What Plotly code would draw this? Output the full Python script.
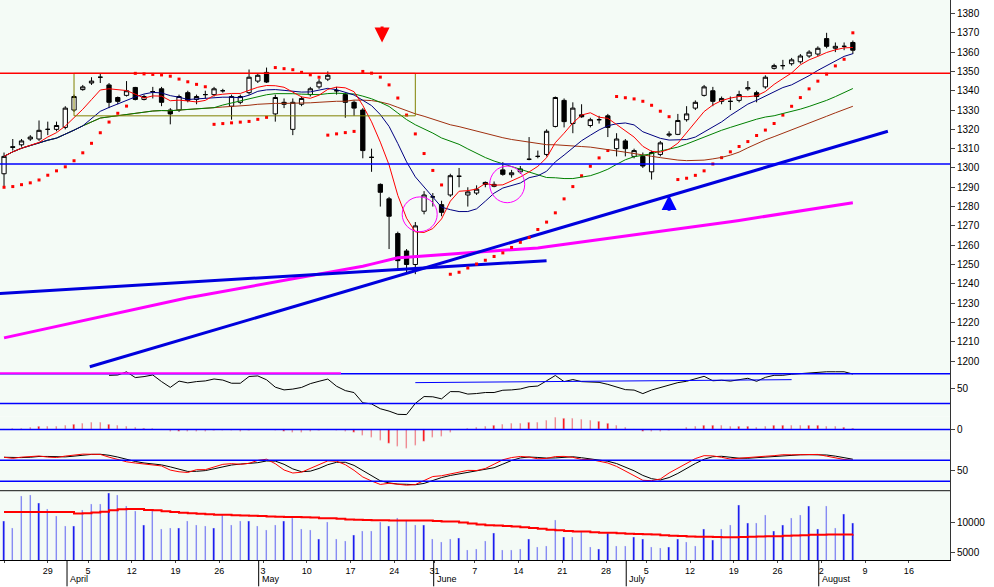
import plotly.graph_objects as go
from plotly.subplots import make_subplots
import pandas as pd
import numpy as np

# daily OHLC (trading-day index 0 = Mar 22)
opens = [1297, 1311, 1312, 1315, 1315, 1320, 1320, 1321, 1330, 1340.6,
         1344, 1347, 1343, 1336.5, 1337.6, 1341.7, 1335.5, 1339.6, 1341, 1330,
         1330, 1339, 1335.5, 1338, 1338, 1340, 1332, 1334, 1339, 1345,
         1349.5, 1328, 1334, 1320, 1333, 1338, 1342, 1346, 1340, 1338,
         1334, 1330, 1305.5, 1291.5, 1284, 1266, 1257, 1250, 1277.6, 1285,
         1281, 1286, 1295.7, 1286, 1287, 1292.5, 1290.5, 1299, 1296.5, 1298,
         1304.5, 1306, 1307, 1321.5, 1335, 1323, 1327.5, 1322, 1325, 1327,
         1310, 1314, 1306, 1306, 1298, 1307, 1317, 1317.4, 1325, 1331,
         1337.6, 1340, 1334.5, 1334.5, 1335, 1341, 1339, 1342, 1351.6, 1353,
         1354, 1355, 1358, 1359, 1367, 1362, 1363, 1365]
closes = [1306, 1310.7, 1314, 1316, 1319.5, 1320, 1322, 1331, 1337, 1342,
          1345, 1347, 1334, 1334.5, 1340, 1335.5, 1337, 1339.6, 1334, 1328,
          1337, 1335, 1337, 1338, 1341, 1340, 1337, 1337, 1347, 1348,
          1344.5, 1336.5, 1333, 1334, 1336, 1341, 1344.5, 1348, 1340, 1334,
          1331, 1309, 1305.5, 1287.4, 1275, 1252, 1250, 1270, 1286, 1285,
          1277, 1296, 1295.7, 1287.6, 1289, 1291.5, 1291.5, 1296.7, 1297.5, 1299.5,
          1304.5, 1306, 1319, 1336.5, 1324, 1331, 1326.5, 1325, 1325, 1321,
          1315, 1310, 1309, 1301, 1308, 1313, 1317.5, 1324.6, 1328, 1334,
          1342, 1334.5, 1336, 1334.5, 1338, 1341.5, 1337, 1347, 1353, 1353,
          1356, 1358, 1360, 1362, 1363, 1363, 1363, 1361]
highs = [1308, 1315, 1315, 1317, 1324.6, 1324, 1324, 1332, 1338, 1343,
         1347, 1349, 1344, 1337, 1345, 1342, 1338, 1342, 1342, 1331,
         1338, 1340, 1338, 1340, 1342, 1341, 1338, 1338, 1351, 1349,
         1352, 1338, 1336, 1336, 1337, 1342, 1346, 1350, 1342, 1339,
         1335, 1331, 1310, 1292, 1285, 1267, 1258, 1272, 1288, 1287,
         1283, 1297, 1300, 1290, 1291, 1293, 1293, 1303, 1299, 1301,
         1316, 1309, 1320, 1337, 1336, 1334, 1333, 1326, 1327, 1328,
         1318, 1315, 1310, 1308, 1309, 1314, 1319, 1328, 1332, 1335,
         1343, 1342, 1337, 1337, 1340, 1345, 1340, 1348, 1354, 1356,
         1357, 1359, 1361, 1363, 1370, 1365, 1365, 1366]
lows = [1290, 1309, 1311, 1314, 1314, 1317, 1319, 1320, 1329, 1340,
        1343, 1344, 1331, 1333, 1337, 1335, 1335, 1336, 1332, 1322.6,
        1329, 1334, 1333, 1336, 1337, 1339, 1325, 1333, 1338, 1344,
        1344, 1324, 1331, 1317, 1332, 1337, 1341, 1345, 1338, 1326,
        1327, 1305, 1298, 1280, 1258, 1248, 1246, 1245, 1276, 1280,
        1275, 1285, 1290, 1280, 1286, 1290, 1290, 1296, 1295, 1297,
        1304, 1305, 1306, 1321, 1321, 1318, 1326, 1321, 1323, 1316,
        1306, 1306, 1305, 1300, 1294, 1306, 1316, 1317, 1324, 1330,
        1337, 1332, 1333, 1330, 1334, 1340, 1334, 1341, 1351, 1351,
        1353, 1354, 1357, 1358, 1362, 1360, 1361, 1359]
volumes = [10100, 9000, 14400, 14500, 13200, 12150, 11000, 9250, 9250, 12000,
           13000, 13000, 14900, 14500, 12700, 11900, 9400, 11900, 8800, 9000,
           9000, 10100, 9400, 9250, 9000, 11200, 9500, 10100, 10100, 9250,
           8700, 9400, 10100, 10600, 8850, 8700, 7200, 10000, 7200, 6800,
           7800, 8500, 8500, 10000, 9250, 10600, 10400, 9500, 9500, 7200,
           6600, 7200, 7300, 5300, 5500, 6800, 8100, 5300, 5300, 5500,
           7200, 5750, 6000, 10300, 7500, 7500, 8400, 5750, 5500, 8200,
           6000, 6000, 7500, 7200, 5750, 5650, 5750, 7200, 6600, 6000,
           8850, 6900, 8800, 9500, 12900, 9800, 9800, 11100, 8500, 9500,
           10600, 11100, 12700, 8800, 12700, 9000, 11400, 9800]

# 200-day line and trend lines (index, value)
ma200_idx = [0, 20, 40, 45, 60, 80, 97]
ma200_val = [1212, 1232, 1248, 1253.5, 1258, 1270, 1282]
trend1_idx = [-0.5, 62]
trend1_val = [1235, 1252]
trend2_idx = [9.8, 101]
trend2_val = [1197, 1319]

resist = 1349
support = 1302

tick_idx = [0, 5, 9.6, 14.6, 19.6, 24.6, 29.6, 34.6, 39.6, 44.6, 49.2, 53.8,
            58.8, 63.8, 68.8, 73.4, 78.4, 83.4, 88.4, 93.4, 98.4, 103.4, 108.4]
tick_text = ["22", "29", "5", "12", "19", "26", "3", "10", "17", "24", "31", "7",
             "14", "21", "28", "5", "12", "19", "26", "2", "9", "16", "2"]
month_idx = [7.2, 29.1, 49.1, 71.1, 93.1]
month_names = ["April", "May", "June", "July", "August"]

k = list(range(len(closes)))
c = pd.Series(closes)
h = pd.Series(highs)
lo = pd.Series(lows)

# indicators
ma5 = c.rolling(5, min_periods=1).mean()
ma10 = c.rolling(10, min_periods=1).mean()
ma25 = c.rolling(25, min_periods=1).mean()
ma40 = c.rolling(40, min_periods=1).mean()

d = c.diff().fillna(0)
up = d.clip(lower=0).ewm(alpha=1 / 14, adjust=False).mean()
dn = (-d.clip(upper=0)).ewm(alpha=1 / 14, adjust=False).mean()
rsi = 100 - 100 / (1 + up / dn.replace(0, np.nan))

macd = c.ewm(span=12, adjust=False).mean() - c.ewm(span=26, adjust=False).mean()
hist = macd - macd.ewm(span=9, adjust=False).mean()

ll = lo.rolling(14, min_periods=1).min()
hh = h.rolling(14, min_periods=1).max()
fast_k = 100 * (c - ll) / (hh - ll)
stk = fast_k.rolling(3, min_periods=1).mean()
std = stk.rolling(3, min_periods=1).mean()

vol_ma = pd.Series(volumes).rolling(50, min_periods=8).mean().bfill()

# parabolic SAR
sar = []
trend_up = True
ep = highs[0]
af = 0.02
s = lows[0]
for i in range(len(closes)):
    if i > 0:
        s = s + af * (ep - s)
        if trend_up:
            if lows[i] < s:
                trend_up, s, ep, af = False, ep, lows[i], 0.02
            elif highs[i] > ep:
                ep, af = highs[i], min(af + 0.02, 0.2)
        else:
            if highs[i] > s:
                trend_up, s, ep, af = True, ep, highs[i], 0.02
            elif lows[i] < ep:
                ep, af = lows[i], min(af + 0.02, 0.2)
    sar.append(s)

fig = make_subplots(rows=5, cols=1, shared_xaxes=True, vertical_spacing=0,
                    row_heights=[372, 46, 34, 41, 69])

fig.add_trace(go.Scatter(x=k, y=np.interp(k, ma200_idx, ma200_val),
                         mode="lines", line=dict(color="#ff00ff", width=3)), 1, 1)
fig.add_trace(go.Scatter(x=trend1_idx, y=trend1_val, mode="lines",
                         line=dict(color="#0000dd", width=3)), 1, 1)
fig.add_trace(go.Scatter(x=trend2_idx, y=trend2_val, mode="lines",
                         line=dict(color="#0000dd", width=3)), 1, 1)
fig.add_trace(go.Scatter(x=k, y=sar, mode="markers",
                         marker=dict(color="red", size=3, symbol="square")), 1, 1)
for ser, col in [(ma40, "#a03010"), (ma25, "#008000"), (ma10, "#000080"), (ma5, "red")]:
    fig.add_trace(go.Scatter(x=k, y=ser, mode="lines", line=dict(color=col, width=1)), 1, 1)
fig.add_trace(go.Candlestick(x=k, open=opens, high=highs, low=lows, close=closes,
                             increasing=dict(line=dict(color="black", width=1), fillcolor="white"),
                             decreasing=dict(line=dict(color="black", width=1), fillcolor="black"),
                             whiskerwidth=0), 1, 1)

fig.add_trace(go.Scatter(x=k[3:], y=rsi[3:], mode="lines", line=dict(color="black", width=1)), 2, 1)
fig.add_trace(go.Bar(x=k, y=hist, marker_color="red", width=0.15), 3, 1)
fig.add_trace(go.Scatter(x=k, y=std, mode="lines", line=dict(color="black", width=1)), 4, 1)
fig.add_trace(go.Scatter(x=k, y=stk, mode="lines", line=dict(color="red", width=1)), 4, 1)
fig.add_trace(go.Bar(x=k, y=volumes, marker_color="#0000ee", width=0.15), 5, 1)
fig.add_trace(go.Scatter(x=k, y=vol_ma, mode="lines", line=dict(color="red", width=2, shape="hv")), 5, 1)

shapes = [
    dict(type="rect", xref="x", yref="y", x0=8, x1=47, y0=1327, y1=1349, line=dict(color="#808000", width=1)),
    dict(type="line", xref="x", yref="y", x0=-1, x1=110, y0=resist, y1=resist, line=dict(color="#ff0000", width=1.5)),
    dict(type="line", xref="x", yref="y", x0=-1, x1=110, y0=support, y1=support, line=dict(color="#0000ff", width=1.5)),
    dict(type="circle", xref="x", yref="y", x0=45.5, x1=49.5, y0=1285, y1=1267, line=dict(color="#ff00ff", width=1)),
    dict(type="circle", xref="x", yref="y", x0=55.5, x1=59.5, y0=1301, y1=1282, line=dict(color="#ff00ff", width=1)),
    dict(type="line", xref="x", yref="y2", x0=-1, x1=110, y0=70, y1=70, line=dict(color="blue", width=1.5)),
    dict(type="line", xref="x", yref="y2", x0=-1, x1=110, y0=30, y1=30, line=dict(color="blue", width=1.5)),
    dict(type="line", xref="x", yref="y2", x0=-0.5, x1=38.5, y0=70.5, y1=70.5, line=dict(color="#ff00ff", width=2)),
    dict(type="line", xref="x", yref="y2", x0=47, x1=90, y0=58, y1=62, line=dict(color="blue", width=1)),
    dict(type="line", xref="x", yref="y3", x0=-1, x1=110, y0=0, y1=0, line=dict(color="blue", width=1.5)),
    dict(type="line", xref="x", yref="y4", x0=-1, x1=110, y0=80, y1=80, line=dict(color="blue", width=1.5)),
    dict(type="line", xref="x", yref="y4", x0=-1, x1=110, y0=20, y1=20, line=dict(color="blue", width=1.5)),
    dict(type="line", xref="x", yref="y4", x0=-1, x1=110, y0=-8, y1=-8, line=dict(color="black", width=1.5)),
]
for m in month_idx:
    shapes.append(dict(type="line", xref="x", yref="paper", x0=m, x1=m, y0=-0.047, y1=0,
                       line=dict(color="black", width=1)))
ann = [dict(x=m, y=-0.0465, xref="x", yref="paper", text=n, showarrow=False,
            xanchor="left", yanchor="bottom", font=dict(size=9), xshift=1)
       for m, n in zip(month_idx, month_names)]
ann += [dict(x=43.2, y=1365, ax=43.2, ay=1374, xref="x", yref="y", axref="x", ayref="y",
             text="", showarrow=True, arrowhead=2, arrowsize=1, arrowwidth=3, arrowcolor="red"),
        dict(x=76.0, y=1286, ax=76.0, ay=1277, xref="x", yref="y", axref="x", ayref="y",
             text="", showarrow=True, arrowhead=2, arrowsize=1, arrowwidth=3, arrowcolor="blue")]

ax_common = dict(side="right", showgrid=False, zeroline=False, ticks="outside", ticklen=4,
                 showline=True, linecolor="#333", tickfont=dict(size=10, color="black"))
fig.update_layout(
    width=994, height=587, margin=dict(l=0, r=44, t=0, b=27),
    paper_bgcolor="white", plot_bgcolor="#f4fbf6", showlegend=False,
    font=dict(family="Liberation Sans", size=10, color="black"),
    shapes=shapes, annotations=ann, bargap=0,
    xaxis_rangeslider_visible=False,
)
fig.update_yaxes(**ax_common)
fig.update_yaxes(range=[1195, 1387], dtick=10, row=1, col=1)
fig.update_yaxes(range=[12.7, 74], tickvals=[50], row=2, col=1)
u = abs(hist.min()) / 19
fig.update_yaxes(range=[-21 * u, 13 * u], tickvals=[0], row=3, col=1)
fig.update_yaxes(range=[-8.6, 108.6], tickvals=[50], row=4, col=1)
fig.update_yaxes(range=[3667, 15167], tickvals=[5000, 10000], tickformat="d", row=5, col=1)
fig.update_xaxes(range=[-0.46, 108.1], showgrid=False, zeroline=False, showline=False)
fig.update_xaxes(tickvals=tick_idx, ticktext=tick_text, ticks="outside", ticklen=2,
                 showline=True, linecolor="black", tickfont=dict(size=9), row=5, col=1)
fig.write_html("out.html", config={"displayModeBar": False},
               post_script="document.body.style.margin='0';")
